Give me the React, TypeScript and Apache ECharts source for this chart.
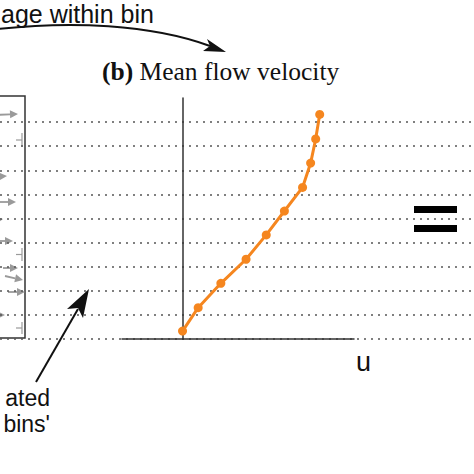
import React, { useEffect, useRef } from 'react';
import * as echarts from 'echarts';

// Bin edges (dotted lines) and mean velocity profile
const binEdges = [0, 1, 2, 3, 4, 5, 6, 7, 8, 9];
const binHeights = [0.33, 1.3, 2.31, 3.31, 4.32, 5.31, 6.29, 7.3, 8.3, 9.32];
const meanU = [0, 0.155, 0.38, 0.63, 0.83, 1.01, 1.19, 1.27, 1.32, 1.36];

const SANS = '"Liberation Sans", Arial, sans-serif';
const SERIF = '"Liberation Serif", "Times New Roman", serif';
const ORANGE = '#f5861f';
const GRAY = '#9a9a9a';

// decorative sample arrows inside the (cropped) left panel: [x1, y1, x2, y2]
const sampleArrows = [
  [-6, 115, 18, 114],
  [-12, 177, 7, 176],
  [-6, 202, 16, 202],
  [-10, 221, 3, 219],
  [-4, 241, 13, 241],
  [3, 268, 18, 268],
  [5, 276, 23, 280],
  [8, 292, 25, 292],
  [-10, 315, 5, 315],
];
const sampleTicks = [
  [22, 133, 147],
  [22, 248, 261],
  [22, 322, 334],
];

function arrowEls(a: number[]) {
  const [x1, y1, x2, y2] = a;
  const dx = x2 - x1, dy = y2 - y1;
  const L = Math.sqrt(dx * dx + dy * dy);
  const ux = dx / L, uy = dy / L;
  const hl = 8, hw = 4;
  const bx = x2 - ux * hl, by = y2 - uy * hl;
  return [
    { type: 'line', shape: { x1, y1, x2: bx, y2: by }, style: { stroke: GRAY, lineWidth: 1.8 } },
    {
      type: 'polygon',
      shape: { points: [[x2, y2], [bx - uy * hw, by + ux * hw], [bx + uy * hw, by - ux * hw]] },
      style: { fill: GRAY },
    },
  ];
}

export default function App() {
  const ref = useRef<HTMLDivElement>(null);
  useEffect(() => {
    const chart = echarts.init(ref.current!, null, { renderer: 'svg' });
    const axisStyle = { color: '#333', width: 1.5 };
    const graphics: any[] = [];
    // left panel frame
    graphics.push({
      type: 'polyline',
      shape: { points: [[-2, 96], [25, 96], [25, 338], [-2, 338]] },
      style: { stroke: '#333', lineWidth: 1.5, fill: 'none' },
    });
    sampleArrows.forEach((a) => graphics.push(...arrowEls(a)));
    sampleTicks.forEach(([x, ya, yb]) => {
      graphics.push({ type: 'line', shape: { x1: x, y1: ya, x2: x, y2: yb }, style: { stroke: GRAY, lineWidth: 1.2 } });
      graphics.push({ type: 'line', shape: { x1: x - 6, y1: (ya + yb) / 2, x2: x, y2: (ya + yb) / 2 }, style: { stroke: GRAY, lineWidth: 1.2 } });
    });
    // top annotation + curved arrow
    graphics.push({
      type: 'text', x: 1, y: 14,
      style: { text: 'age within bin', font: `25px ${SANS}`, fill: '#111', align: 'left', verticalAlign: 'middle' },
    });
    graphics.push({
      type: 'bezierCurve',
      shape: { x1: -2, y1: 29, cpx1: 70, cpy1: 21, cpx2: 150, cpy2: 24, x2: 210, y2: 46 },
      style: { stroke: '#111', lineWidth: 2, fill: 'none' },
    });
    graphics.push({
      type: 'polygon',
      shape: { points: [[226, 52], [207, 39], [210, 46], [203, 51]] },
      style: { fill: '#111' },
    });
    // title
    graphics.push({
      type: 'text', x: 102, y: 71,
      style: {
        text: '{b|(b)}{n| Mean flow velocity}',
        verticalAlign: 'middle',
        rich: {
          b: { fontFamily: SERIF, fontSize: 25.5, fontWeight: 'bold', fill: '#111' },
          n: { fontFamily: SERIF, fontSize: 25.5, fill: '#111' },
        },
      },
    });
    // bottom-left annotation + arrow
    graphics.push({
      type: 'text', x: 50, y: 411,
      style: {
        text: "ated\nbins'", font: `23px ${SANS}`, lineHeight: 26, fill: '#111',
        align: 'right', verticalAlign: 'middle',
      },
    });
    graphics.push({
      type: 'line', shape: { x1: 36, y1: 382, x2: 78, y2: 309 },
      style: { stroke: '#111', lineWidth: 2 },
    });
    graphics.push({
      type: 'polygon',
      shape: { points: [[89, 289], [83, 318], [78, 308], [67, 309]] },
      style: { fill: '#111' },
    });
    // axis name u
    graphics.push({
      type: 'text', x: 356, y: 362,
      style: { text: 'u', font: `27px ${SANS}`, fill: '#111', align: 'left', verticalAlign: 'middle' },
    });
    // equals sign
    graphics.push({ type: 'rect', shape: { x: 414, y: 206, width: 43, height: 7 }, style: { fill: '#000' } });
    graphics.push({ type: 'rect', shape: { x: 414, y: 225, width: 43, height: 7 }, style: { fill: '#000' } });

    chart.setOption({
      animation: false,
      backgroundColor: '#fff',
      grid: [
        { left: 122, right: 120, top: 98, bottom: 135 },
        { left: 0, right: 0, top: 98, bottom: 135 },
      ],
      xAxis: [
        {
          gridIndex: 0, type: 'value', min: -0.6, max: 1.7, z: 5,
          axisLine: { show: true, onZero: false, lineStyle: axisStyle },
          axisTick: { show: false }, axisLabel: { show: false }, splitLine: { show: false },
        },
        { gridIndex: 1, type: 'value', min: 0, max: 1, show: false, splitLine: { show: false } },
      ],
      yAxis: [
        {
          gridIndex: 0, type: 'value', min: 0, max: 10, z: 5,
          axisLine: { show: true, onZero: true, lineStyle: axisStyle },
          axisTick: { show: false }, axisLabel: { show: false }, splitLine: { show: false },
        },
        { gridIndex: 1, type: 'value', min: 0, max: 10, show: false, splitLine: { show: false } },
      ],
      series: [
        {
          type: 'line', xAxisIndex: 1, yAxisIndex: 1, data: [], z: 1, silent: true,
          markLine: {
            silent: true, symbol: ['none', 'none'], label: { show: false },
            lineStyle: { type: [2, 5], color: '#555', width: 1.7 },
            data: binEdges.map((v) => ({ yAxis: v })),
          },
        },
        {
          type: 'line', xAxisIndex: 0, yAxisIndex: 0, z: 6,
          data: meanU.map((u, i) => [u, binHeights[i]]),
          symbol: 'circle', symbolSize: 9,
          lineStyle: { color: ORANGE, width: 3 },
          itemStyle: { color: ORANGE },
        },
      ],
      graphic: graphics,
    });
    return () => chart.dispose();
  }, []);
  return (
    <div
      ref={ref}
      style={{ position: 'fixed', left: 0, top: 0, width: 474, height: 474, background: '#fff' }}
    />
  );
}
